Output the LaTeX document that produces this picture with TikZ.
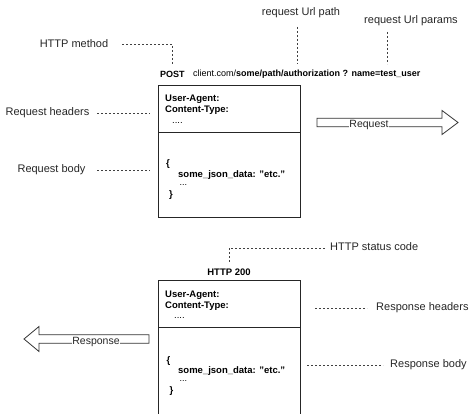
\documentclass[tikz,border=0pt]{standalone}
\usepackage{fontspec}
\setmainfont{Liberation Sans}
\begin{document}
\begin{tikzpicture}[x=1pt,y=-1pt,
  lbl/.style={font=\fontsize{11}{13}\selectfont, inner sep=0pt, text=black!85},
  btxt/.style={font=\bfseries\fontsize{9.5}{11}\selectfont, inner sep=0pt, anchor=base west},
  dsh/.style={draw=black!75, line width=0.6pt, dash pattern=on 2pt off 2pt},
  box/.style={draw=black!85, line width=0.9pt},
  fat/.style={draw=black!80, line width=0.8pt, fill=white, line join=miter},
  alabel/.style={font=\fontsize{10.5}{12}\selectfont, fill=white, inner xsep=0.5pt, inner ysep=0pt, text height=6.5pt, text depth=1.5pt, text=black!85}]
\useasboundingbox (0,0) rectangle (474,414);

% ---------- Request ----------
\node[lbl] (method) at (74,44) {HTTP method};
\node[lbl] (urlpath) at (301,13) {request Url path};
\node[lbl] (urlparams) at (411,21) {request Url params};
\node[btxt, anchor=west, font=\bfseries\fontsize{9}{11}\selectfont] (post) at (160,74) {POST};
\node[btxt, anchor=west, font=\fontsize{9}{11}\selectfont] (url) at (193,74) {client.com/\textbf{some/path/authorization ? name=test\_user}};

\coordinate (m1) at (122,44);
\coordinate (m2) at (172,44);
\coordinate (m3) at (172,64);
\draw[dsh] (m1) -- (m2) -- (m3);
\coordinate (p1) at (297,27);
\coordinate (p2) at (297,64);
\draw[dsh] (p1) -- (p2);
\coordinate (q1) at (387,32);
\coordinate (q2) at (387,64);
\draw[dsh] (q1) -- (q2);

\node[lbl] (reqhead) at (47.5,113) {Request headers};
\node[lbl] (reqbody) at (51.5,170) {Request body};
\coordinate (rh1) at (97,113);
\coordinate (rh2) at (150,113);
\draw[dsh] (rh1) -- (rh2);
\coordinate (rb1) at (97,170);
\coordinate (rb2) at (150,170);
\draw[dsh] (rb1) -- (rb2);

\coordinate (reqtl) at (158,85);
\coordinate (reqbr) at (300,217);
\draw[box] (reqtl) rectangle (reqbr);
\coordinate (reqs1) at (158,132);
\coordinate (reqs2) at (300,132);
\draw[box] (reqs1) -- (reqs2);

\node[btxt] (rqua) at (165,101.5) {User-Agent:};
\node[btxt] (rqct) at (165,113) {Content-Type:};
\node[btxt, font=\fontsize{9.5}{11}\selectfont] (rqdots) at (172,123.3) {....};
\node[btxt] (rqob) at (166,167) {\{};
\node[btxt] (rqjs) at (178,177.5) {some\_json\_data: "etc."};
\node[btxt, font=\fontsize{9}{11}\selectfont] (rqel) at (179.5,186) {...};
\node[btxt] (rqcb) at (169,198) {\}};

% Request arrow
\draw[fat] (317,118.3) -- (442,118.3) -- (442,110.5) -- (458,122.5) -- (442,134.5) -- (442,126.7) -- (317,126.7) -- cycle;
\node[alabel] (reqarrow) at (369,125) {Request};

% ---------- Response ----------
\node[lbl, anchor=west] (status) at (330,247) {HTTP status code};
\node[btxt, anchor=center] (h200) at (229,272) {HTTP 200};
\coordinate (s1) at (229,262);
\coordinate (s2) at (229,248);
\coordinate (s3) at (326,248);
\draw[dsh] (s1) -- (s2) -- (s3);

\coordinate (rstl) at (158,280);
\coordinate (rsbl) at (158,420);
\coordinate (rsbr) at (300,420);
\coordinate (rstr) at (300,280);
\draw[box] (rsbl) -- (rstl) -- (rstr) -- (rsbr);
\coordinate (rss1) at (158,327);
\coordinate (rss2) at (300,327);
\draw[box] (rss1) -- (rss2);

\node[btxt] (rsua) at (165,297.5) {User-Agent:};
\node[btxt] (rsct) at (165,308.3) {Content-Type:};
\node[btxt, font=\fontsize{9.5}{11}\selectfont] (rsdots) at (174,318.3) {....};
\node[btxt] (rsob) at (166.5,363.5) {\{};
\node[btxt] (rsjs) at (178,373.5) {some\_json\_data: "etc."};
\node[btxt, font=\fontsize{9}{11}\selectfont] (rsel) at (179.5,381.5) {...};
\node[btxt] (rscb) at (169.5,393) {\}};

\node[lbl, anchor=west] (rshead) at (376,308) {Response headers};
\node[lbl, anchor=west] (rsbody) at (390,365) {Response body};
\coordinate (sh1) at (315,308);
\coordinate (sh2) at (367,308);
\draw[dsh] (sh1) -- (sh2);
\coordinate (sb1) at (307,365);
\coordinate (sb2) at (383,365);
\draw[dsh] (sb1) -- (sb2);

% Response arrow
\draw[fat] (149,334.7) -- (39,334.7) -- (39,326.5) -- (24,339) -- (39,351.5) -- (39,343.3) -- (149,343.3) -- cycle;
\node[alabel] (resarrow) at (96,341.5) {Response};
\end{tikzpicture}
\end{document}
